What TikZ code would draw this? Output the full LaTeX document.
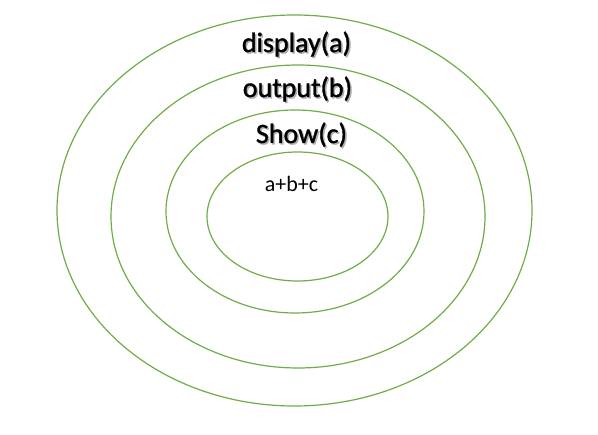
\documentclass[tikz,border=0pt]{standalone}
\usepackage{fontspec}
\setmainfont{Carlito}
\newfontfamily\medfont{Carlito}[FakeBold=1.2]
\definecolor{ringgreen}{RGB}{112,173,71}
\definecolor{shadowgray}{RGB}{175,175,175}
\newcommand{\shadowtext}[1]{\makebox[0pt][l]{\hspace{1.5pt}\raisebox{-1.5pt}{\textcolor{shadowgray}{#1}}}#1}
\tikzset{
  ring/.style={draw=ringgreen, line width=1.2pt},
  bigtext/.style={font=\fontsize{28}{30}\selectfont\medfont, inner sep=0pt, anchor=base},
  smalltext/.style={font=\fontsize{22}{24}\selectfont, inner sep=0pt, anchor=base},
}
\begin{document}
\begin{tikzpicture}[x=1pt,y=-1pt]
\useasboundingbox (0,0) rectangle (598,435);
\fill[white] (0,0) rectangle (598,435);
\draw[ring] (294.5,210.5) ellipse [x radius=237.5, y radius=195.5];
\draw[ring] (298,216.5) ellipse [x radius=187, y radius=151.5];
\draw[ring] (295,211.5) ellipse [x radius=129, y radius=101.5];
\draw[ring] (297.5,216.5) ellipse [x radius=90.5, y radius=64.5];
\node[bigtext] (disp) at (296.5,52) {\shadowtext{display(a)}};
\node[bigtext] (outp) at (297.5,97) {\shadowtext{output(b)}};
\node[bigtext] (show) at (301.5,143) {\shadowtext{Show(c)}};
\node[smalltext] (sum) at (291.5,192) {a+b+c};
\end{tikzpicture}
\end{document}
